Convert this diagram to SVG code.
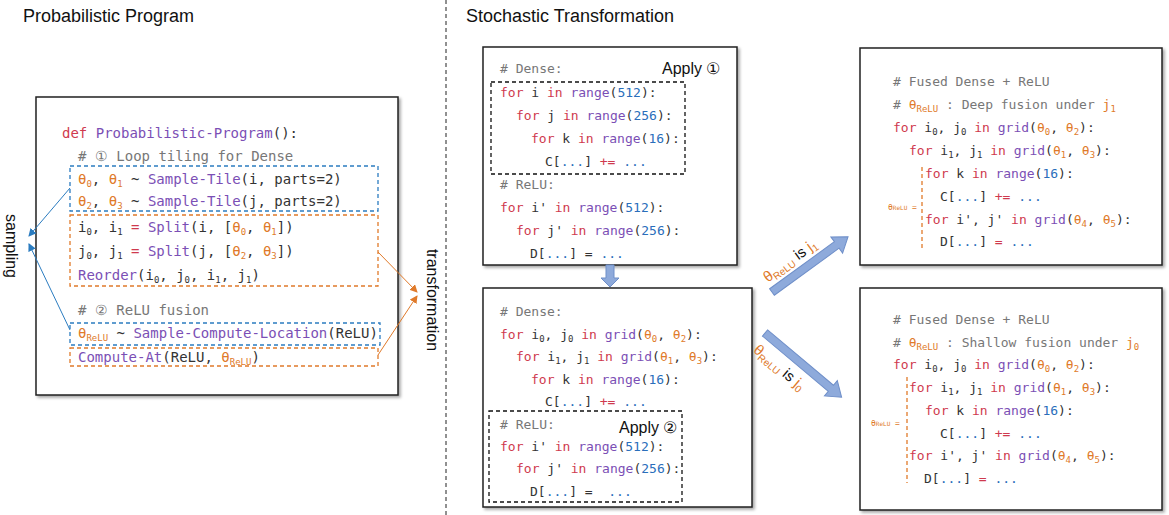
<svg xmlns="http://www.w3.org/2000/svg" width="1169" height="515" viewBox="0 0 1169 515">
<style>
.t{font-family:"Liberation Sans","DejaVu Sans",sans-serif;font-size:18px;fill:#111}
.c{font-family:"DejaVu Sans Mono",monospace;font-size:13px;fill:#333;white-space:pre}
.L{font-size:14px}
.k{fill:#cf3a4e}.p{fill:#7b4fb5}.o{fill:#e07a2a}.b{fill:#2a6ebb}.g{fill:#777}
.s{font-size:9px;baseline-shift:-3px}
.box{fill:#fff;stroke:#222;stroke-width:1.5}
.db{fill:none;stroke:#2b7cc0;stroke-width:1.3;stroke-dasharray:4 3}
.do{fill:none;stroke:#e07a2a;stroke-width:1.3;stroke-dasharray:4 3}
.dk{fill:none;stroke:#111;stroke-width:1.3;stroke-dasharray:4 3}
.fat{fill:#8eaadb;stroke:#6f8fc9;stroke-width:1}
.lab{font-family:"Liberation Sans",sans-serif;font-size:16px;fill:#111}
</style>
<defs>
<marker id="ab" markerWidth="8" markerHeight="8" refX="7" refY="4" orient="auto"><path d="M0,0L8,4L0,8z" fill="#2b7cc0"/></marker>
<marker id="ao" markerWidth="8" markerHeight="8" refX="7" refY="4" orient="auto"><path d="M0,0L8,4L0,8z" fill="#e07a2a"/></marker>
<filter id="sh"><feDropShadow dx="2" dy="2" stdDeviation="1.5" flood-opacity="0.35"/></filter>
</defs>
<rect width="1169" height="515" fill="#fff"/>
<text class="t" x="23" y="22">Probabilistic Program</text>
<text class="t" x="466" y="22">Stochastic Transformation</text>
<line x1="446" y1="0" x2="446" y2="515" stroke="#222" stroke-dasharray="4 3"/>

<g id="program">
<rect class="box" x="36" y="97" width="362" height="298" filter="url(#sh)"/>
<text class="c L" x="62" y="138"><tspan class="k">def </tspan><tspan class="p">Probabilistic-Program</tspan>():</text>
<text class="c L g" x="78" y="161"># ① Loop tiling for Dense</text>
<text class="c L" x="78" y="184"><tspan class="o">θ<tspan class="s">0</tspan></tspan>, <tspan class="o">θ<tspan class="s">1</tspan></tspan> ~ <tspan class="p">Sample-Tile</tspan>(i, parts=2)</text>
<text class="c L" x="78" y="206"><tspan class="o">θ<tspan class="s">2</tspan></tspan>, <tspan class="o">θ<tspan class="s">3</tspan></tspan> ~ <tspan class="p">Sample-Tile</tspan>(j, parts=2)</text>
<text class="c L" x="78" y="232">i<tspan class="s">0</tspan>, i<tspan class="s">1</tspan> <tspan class="k">=</tspan> <tspan class="p">Split</tspan>(i, [<tspan class="o">θ<tspan class="s">0</tspan></tspan>, <tspan class="o">θ<tspan class="s">1</tspan></tspan>])</text>
<text class="c L" x="78" y="256">j<tspan class="s">0</tspan>, j<tspan class="s">1</tspan> <tspan class="k">=</tspan> <tspan class="p">Split</tspan>(j, [<tspan class="o">θ<tspan class="s">2</tspan></tspan>, <tspan class="o">θ<tspan class="s">3</tspan></tspan>])</text>
<text class="c L" x="78" y="280"><tspan class="p">Reorder</tspan>(i<tspan class="s">0</tspan>, j<tspan class="s">0</tspan>, i<tspan class="s">1</tspan>, j<tspan class="s">1</tspan>)</text>
<text class="c L g" x="78" y="315"># ② ReLU fusion</text>
<text class="c L" x="78" y="338"><tspan class="o">θ<tspan class="s">ReLU</tspan></tspan> ~ <tspan class="p">Sample-Compute-Location</tspan>(ReLU)</text>
<text class="c L" x="78" y="362"><tspan class="p">Compute-At</tspan>(ReLU, <tspan class="o">θ<tspan class="s">ReLU</tspan></tspan>)</text>
<rect class="db" x="70" y="166" width="308" height="45"/>
<rect class="do" x="70" y="215" width="308" height="71"/>
<rect class="db" x="70" y="323" width="310" height="22"/>
<rect class="do" x="70" y="348" width="308" height="18"/>
</g>

<g id="labels">
<text class="lab" transform="translate(6,246) rotate(90)" text-anchor="middle">sampling</text>
<text class="lab" transform="translate(427,300) rotate(90)" text-anchor="middle">transformation</text>
</g>

<g id="orig">
<rect class="box" x="483" y="47" width="254" height="218" filter="url(#sh)"/>
<text class="c g" x="500" y="73"># Dense:</text>
<text class="lab" x="662" y="74">Apply ①</text>
<text class="c" x="500" y="97"><tspan class="k">for</tspan> i <tspan class="k">in</tspan> <tspan class="p">range</tspan>(<tspan class="b">512</tspan>):</text>
<text class="c" x="516" y="120"><tspan class="k">for</tspan> j <tspan class="k">in</tspan> <tspan class="p">range</tspan>(<tspan class="b">256</tspan>):</text>
<text class="c" x="531" y="143"><tspan class="k">for</tspan> k <tspan class="k">in</tspan> <tspan class="p">range</tspan>(<tspan class="b">16</tspan>):</text>
<text class="c" x="545" y="166">C[<tspan class="b">...</tspan>] <tspan class="k">+=</tspan> <tspan class="b">...</tspan></text>
<text class="c g" x="500" y="189"># ReLU:</text>
<text class="c" x="500" y="212"><tspan class="k">for</tspan> i' <tspan class="k">in</tspan> <tspan class="p">range</tspan>(<tspan class="b">512</tspan>):</text>
<text class="c" x="516" y="235"><tspan class="k">for</tspan> j' <tspan class="k">in</tspan> <tspan class="p">range</tspan>(<tspan class="b">256</tspan>):</text>
<text class="c" x="530" y="258">D[<tspan class="b">...</tspan>] = <tspan class="b">...</tspan></text>
<rect class="dk" x="491" y="82" width="194" height="92"/>
</g>

<g id="tiled">
<rect class="box" x="483" y="288" width="269" height="219" filter="url(#sh)"/>
<text class="c g" x="500" y="316"># Dense:</text>
<text class="c" x="500" y="339"><tspan class="k">for</tspan> i<tspan class="s">0</tspan>, j<tspan class="s">0</tspan> <tspan class="k">in</tspan> <tspan class="p">grid</tspan>(<tspan class="o">θ<tspan class="s">0</tspan></tspan>, <tspan class="o">θ<tspan class="s">2</tspan></tspan>):</text>
<text class="c" x="516" y="361"><tspan class="k">for</tspan> i<tspan class="s">1</tspan>, j<tspan class="s">1</tspan> <tspan class="k">in</tspan> <tspan class="p">grid</tspan>(<tspan class="o">θ<tspan class="s">1</tspan></tspan>, <tspan class="o">θ<tspan class="s">3</tspan></tspan>):</text>
<text class="c" x="531" y="384"><tspan class="k">for</tspan> k <tspan class="k">in</tspan> <tspan class="p">range</tspan>(<tspan class="b">16</tspan>):</text>
<text class="c" x="545" y="406">C[<tspan class="b">...</tspan>] <tspan class="k">+=</tspan> <tspan class="b">...</tspan></text>
<text class="c g" x="500" y="429"># ReLU:</text>
<text class="lab" x="619" y="433">Apply ②</text>
<text class="c" x="500" y="451"><tspan class="k">for</tspan> i' <tspan class="k">in</tspan> <tspan class="p">range</tspan>(<tspan class="b">512</tspan>):</text>
<text class="c" x="516" y="473"><tspan class="k">for</tspan> j' <tspan class="k">in</tspan> <tspan class="p">range</tspan>(<tspan class="b">256</tspan>):</text>
<text class="c" x="530" y="496">D[<tspan class="b">...</tspan>] =  <tspan class="b">...</tspan></text>
<rect class="dk" x="489" y="411" width="193" height="91"/>
</g>

<g id="deep">
<rect class="box" x="860" y="48" width="302" height="217" filter="url(#sh)"/>
<text class="c g" x="893" y="86"># Fused Dense + ReLU</text>
<text class="c g" x="893" y="109"># <tspan class="o">θ<tspan class="s">ReLU</tspan></tspan> : Deep fusion under <tspan class="o">j<tspan class="s">1</tspan></tspan></text>
<text class="c" x="893" y="132"><tspan class="k">for</tspan> i<tspan class="s">0</tspan>, j<tspan class="s">0</tspan> <tspan class="k">in</tspan> <tspan class="p">grid</tspan>(<tspan class="o">θ<tspan class="s">0</tspan></tspan>, <tspan class="o">θ<tspan class="s">2</tspan></tspan>):</text>
<text class="c" x="909" y="155"><tspan class="k">for</tspan> i<tspan class="s">1</tspan>, j<tspan class="s">1</tspan> <tspan class="k">in</tspan> <tspan class="p">grid</tspan>(<tspan class="o">θ<tspan class="s">1</tspan></tspan>, <tspan class="o">θ<tspan class="s">3</tspan></tspan>):</text>
<text class="c" x="925" y="178"><tspan class="k">for</tspan> k <tspan class="k">in</tspan> <tspan class="p">range</tspan>(<tspan class="b">16</tspan>):</text>
<text class="c" x="940" y="201">C[<tspan class="b">...</tspan>] <tspan class="k">+=</tspan> <tspan class="b">...</tspan></text>
<text class="c" x="925" y="224"><tspan class="k">for</tspan> i', j' <tspan class="k">in</tspan> <tspan class="p">grid</tspan>(<tspan class="o">θ<tspan class="s">4</tspan></tspan>, <tspan class="o">θ<tspan class="s">5</tspan></tspan>):</text>
<text class="c" x="940" y="246">D[<tspan class="b">...</tspan>] <tspan class="k">=</tspan> <tspan class="b">...</tspan></text>
<line class="do" x1="922" y1="167" x2="922" y2="250"/>
<text class="c o" x="888" y="210" style="font-size:8px">θ<tspan style="font-size:6px">ReLU</tspan> =</text>
</g>

<g id="shallow">
<rect class="box" x="860" y="288" width="302" height="222" filter="url(#sh)"/>
<text class="c g" x="893" y="324"># Fused Dense + ReLU</text>
<text class="c g" x="893" y="347"># <tspan class="o">θ<tspan class="s">ReLU</tspan></tspan> : Shallow fusion under <tspan class="o">j<tspan class="s">0</tspan></tspan></text>
<text class="c" x="893" y="369"><tspan class="k">for</tspan> i<tspan class="s">0</tspan>, j<tspan class="s">0</tspan> <tspan class="k">in</tspan> <tspan class="p">grid</tspan>(<tspan class="o">θ<tspan class="s">0</tspan></tspan>, <tspan class="o">θ<tspan class="s">2</tspan></tspan>):</text>
<text class="c" x="909" y="392"><tspan class="k">for</tspan> i<tspan class="s">1</tspan>, j<tspan class="s">1</tspan> <tspan class="k">in</tspan> <tspan class="p">grid</tspan>(<tspan class="o">θ<tspan class="s">1</tspan></tspan>, <tspan class="o">θ<tspan class="s">3</tspan></tspan>):</text>
<text class="c" x="925" y="415"><tspan class="k">for</tspan> k <tspan class="k">in</tspan> <tspan class="p">range</tspan>(<tspan class="b">16</tspan>):</text>
<text class="c" x="940" y="438">C[<tspan class="b">...</tspan>] <tspan class="k">+=</tspan> <tspan class="b">...</tspan></text>
<text class="c" x="909" y="460"><tspan class="k">for</tspan> i', j' <tspan class="k">in</tspan> <tspan class="p">grid</tspan>(<tspan class="o">θ<tspan class="s">4</tspan></tspan>, <tspan class="o">θ<tspan class="s">5</tspan></tspan>):</text>
<text class="c" x="924" y="483">D[<tspan class="b">...</tspan>] <tspan class="k">=</tspan> <tspan class="b">...</tspan></text>
<line class="do" x1="907" y1="377" x2="907" y2="483"/>
<text class="c o" x="871" y="426" style="font-size:8px">θ<tspan style="font-size:6px">ReLU</tspan> =</text>
</g>

<g id="connectors">
<line x1="70" y1="188" x2="29" y2="236" stroke="#2b7cc0" stroke-width="1" marker-end="url(#ab)"/>
<line x1="70" y1="330" x2="29" y2="244" stroke="#2b7cc0" stroke-width="1" marker-end="url(#ab)"/>
<line x1="378" y1="252" x2="417" y2="292" stroke="#e07a2a" stroke-width="1" marker-end="url(#ao)"/>
<line x1="378" y1="355" x2="417" y2="296" stroke="#e07a2a" stroke-width="1" marker-end="url(#ao)"/>
<polygon class="fat" points="606,265 614,265 614,278 619,278 610,287 601,278 606,278"/>
<polygon class="fat" transform="translate(772,292) rotate(-36)" points="0,-4 80,-4 80,-10 94,0 80,10 80,4 0,4"/>
<polygon class="fat" transform="translate(765,333) rotate(40)" points="0,-4 86,-4 86,-10 100,0 86,10 86,4 0,4"/>
<text class="lab" transform="translate(772,292) rotate(-36)" x="2" y="-10" style="font-size:15px"><tspan class="o">θ<tspan style="font-size:10px;baseline-shift:-3px">ReLU</tspan></tspan> is <tspan class="o">j<tspan style="font-size:10px;baseline-shift:-3px">1</tspan></tspan></text>
<text class="lab" transform="translate(765,333) rotate(40)" x="2" y="22" style="font-size:15px"><tspan class="o">θ<tspan style="font-size:10px;baseline-shift:-3px">ReLU</tspan></tspan> is <tspan class="o">j<tspan style="font-size:10px;baseline-shift:-3px">0</tspan></tspan></text>
</g>
</svg>
